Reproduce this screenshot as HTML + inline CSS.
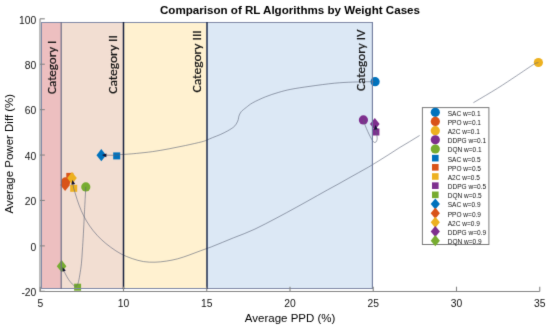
<!DOCTYPE html><html><head><meta charset="utf-8"><title>Comparison of RL Algorithms by Weight Cases</title><style>html,body{margin:0;padding:0;background:#fff;overflow:hidden}svg{display:block}text{font-family:"Liberation Sans",Arial,sans-serif}</style></head><body>
<svg width="550" height="328" viewBox="0 0 550 328">
<defs><filter id="sf" x="0" y="0" width="550" height="328" filterUnits="userSpaceOnUse" color-interpolation-filters="sRGB"><feConvolveMatrix order="3" kernelMatrix="0.0100 0.0800 0.0100 0.0800 0.6400 0.0800 0.0100 0.0800 0.0100" divisor="1" edgeMode="duplicate" preserveAlpha="true"/></filter></defs>
<rect width="550" height="328" fill="#fff"/>
<g filter="url(#sf)">
<rect width="550" height="328" fill="#fff"/>
<g fill-opacity="0.3">
<rect x="41.00" y="22.0" width="20.20" height="267.00" fill="#c32a30"/>
<rect x="61.20" y="22.0" width="62.30" height="267.00" fill="#d39169"/>
<rect x="123.50" y="22.0" width="83.50" height="267.00" fill="#ffd062"/>
<rect x="207.00" y="22.0" width="165.40" height="267.00" fill="#8ab2de"/>
</g>
<g>
<circle cx="375.10" cy="81.70" r="4.6" fill="#0072BD"/>
<circle cx="65.60" cy="181.90" r="4.6" fill="#D95319"/>
<circle cx="538.40" cy="62.50" r="4.6" fill="#EDB120"/>
<circle cx="363.40" cy="119.90" r="4.6" fill="#7E2F8E"/>
<circle cx="85.80" cy="186.90" r="4.6" fill="#77AC30"/>
<rect x="113.20" y="152.40" width="7.0" height="7.0" fill="#0072BD"/>
<rect x="66.30" y="172.90" width="7.0" height="7.0" fill="#D95319"/>
<rect x="70.20" y="184.80" width="7.0" height="7.0" fill="#EDB120"/>
<rect x="372.40" y="128.50" width="7.0" height="7.0" fill="#7E2F8E"/>
<rect x="74.10" y="283.70" width="7.0" height="7.0" fill="#77AC30"/>
<path d="M101.30,149.10 L106.10,155.20 L101.30,161.30 L96.50,155.20Z" fill="#0072BD"/>
<path d="M65.10,178.90 L69.90,185.00 L65.10,191.10 L60.30,185.00Z" fill="#D95319"/>
<path d="M72.00,172.00 L76.80,178.10 L72.00,184.20 L67.20,178.10Z" fill="#EDB120"/>
<path d="M374.80,117.90 L379.60,124.00 L374.80,130.10 L370.00,124.00Z" fill="#7E2F8E"/>
<path d="M61.60,260.10 L66.40,266.20 L61.60,272.30 L56.80,266.20Z" fill="#77AC30"/>
</g>
<g fill="none" stroke="#5c6478" stroke-opacity="0.6" stroke-width="1" stroke-linejoin="round">
<path d="M375.10,81.70 C373.70,81.70 374.63,81.63 370.90,81.70 C367.17,81.77 358.77,81.85 352.70,82.10 C346.63,82.35 341.62,82.50 334.50,83.20 C327.38,83.90 317.27,85.28 310.00,86.30 C302.73,87.32 296.20,88.27 290.90,89.30 C285.60,90.33 282.43,91.25 278.20,92.50 C273.97,93.75 269.75,95.08 265.50,96.80 C261.25,98.52 255.90,101.03 252.70,102.80 C249.50,104.57 248.23,105.90 246.30,107.40 C244.37,108.90 242.33,110.33 241.10,111.80 C239.87,113.27 239.37,114.93 238.90,116.20 C238.43,117.47 238.65,118.27 238.30,119.40 C237.95,120.53 237.53,121.77 236.80,123.00 C236.07,124.23 235.40,125.50 233.90,126.80 C232.40,128.10 230.08,129.50 227.80,130.80 C225.52,132.10 222.73,133.47 220.20,134.60 C217.67,135.73 214.85,136.68 212.60,137.60 C210.35,138.52 208.50,139.40 206.70,140.10 C204.90,140.80 205.33,140.90 201.80,141.80 C198.27,142.70 190.95,144.33 185.50,145.50 C180.05,146.67 174.57,147.78 169.10,148.80 C163.63,149.82 158.15,150.83 152.70,151.60 C147.25,152.37 140.48,152.98 136.40,153.40 C132.32,153.82 130.93,153.90 128.20,154.10 C125.47,154.30 121.92,154.45 120.00,154.60 C118.08,154.75 117.80,154.87 116.70,155.00"/>
<path d="M73.70,188.30 C74.83,192.03 75.85,195.80 77.10,199.50 C78.35,203.20 79.63,206.92 81.20,210.50 C82.77,214.08 84.50,217.63 86.50,221.00 C88.50,224.37 90.72,227.60 93.20,230.70 C95.68,233.80 98.47,236.83 101.40,239.60 C104.33,242.37 107.50,244.90 110.80,247.30 C114.10,249.70 117.63,252.12 121.20,254.00 C124.77,255.88 128.47,257.33 132.20,258.60 C135.93,259.87 139.80,261.00 143.60,261.60 C147.40,262.20 151.22,262.28 155.00,262.20 C158.78,262.12 162.52,261.67 166.30,261.10 C170.08,260.53 173.92,259.80 177.70,258.80 C181.48,257.80 185.25,256.42 189.00,255.10 C192.75,253.78 196.48,252.27 200.20,250.90 C203.92,249.53 207.60,248.32 211.30,246.90 C215.00,245.48 218.73,243.90 222.40,242.40 C226.07,240.90 229.67,239.35 233.30,237.90 C236.93,236.45 240.60,235.17 244.20,233.70 C247.80,232.23 251.35,230.75 254.90,229.10 C258.45,227.45 261.98,225.60 265.50,223.80 C269.02,222.00 272.50,220.15 276.00,218.30 C279.50,216.45 283.02,214.58 286.50,212.70 C289.98,210.82 293.45,208.90 296.90,207.00 C300.35,205.10 303.77,203.22 307.20,201.30 C310.63,199.38 314.08,197.42 317.50,195.50 C320.92,193.58 324.28,191.68 327.70,189.80 C331.12,187.92 334.60,186.08 338.00,184.20 C341.40,182.32 344.72,180.40 348.10,178.50 C351.48,176.60 354.90,174.70 358.30,172.80 C361.70,170.90 365.10,169.08 368.50,167.10 C371.90,165.12 375.30,163.00 378.70,160.90 C382.10,158.80 385.50,156.67 388.90,154.50 C392.30,152.33 395.70,150.02 399.10,147.90 C402.50,145.78 405.88,143.87 409.30,141.80 C412.72,139.73 416.17,137.60 419.60,135.50"/>
<path d="M473.40,102.70 C481.37,97.93 490.13,92.87 497.30,88.40 C504.47,83.93 510.37,79.88 516.40,75.90 C522.43,71.92 529.83,66.73 533.50,64.50 C537.17,62.27 536.77,63.17 538.40,62.50"/>
<path d="M85.80,186.90 C85.60,190.70 85.40,194.55 85.20,198.30 C85.00,202.05 84.90,203.48 84.60,209.40 C84.30,215.32 83.77,227.03 83.40,233.80 C83.03,240.57 82.73,245.00 82.40,250.00 C82.07,255.00 81.83,259.65 81.40,263.80 C80.97,267.95 80.33,271.72 79.80,274.90 C79.27,278.08 78.73,281.05 78.20,282.90 C77.67,284.75 77.38,285.62 76.60,286.00 C75.82,286.38 74.82,286.25 73.50,285.20 C72.18,284.15 70.03,281.55 68.70,279.70 C67.37,277.85 66.35,275.68 65.50,274.10 C64.65,272.52 64.23,271.50 63.60,270.20"/>
<path d="M363.40,119.90 C364.03,121.83 364.57,123.75 365.30,125.70 C366.03,127.65 366.98,129.80 367.80,131.60 C368.62,133.40 369.38,134.95 370.20,136.50 C371.02,138.05 372.02,139.92 372.70,140.90 C373.38,141.88 373.73,142.23 374.30,142.40 C374.87,142.57 375.63,142.40 376.10,141.90 C376.57,141.40 376.93,140.22 377.10,139.40 C377.27,138.58 377.20,138.23 377.10,137.00 C377.00,135.77 376.70,133.67 376.50,132.00"/>
<path d="M116.7,155.3 L105.5,155.2"/>
<path d="M73.7,188.3 L72.8,183.5"/>
<path d="M375.9,132.0 L375.4,128.5"/>
</g>
<g stroke="#8089a6" stroke-width="1" fill="none"><path d="M41.0,22.5 H372.4 M41.0,288.5 H372.4 M41.5,22.0 V289.0"/></g>
<line x1="61.2" y1="22.0" x2="61.2" y2="289.0" stroke="#6c6d86" stroke-width="1.2"/>
<line x1="372.4" y1="22.0" x2="372.4" y2="289.0" stroke="#6d7a9c" stroke-width="1.1"/>
<line x1="123.5" y1="22.0" x2="123.5" y2="289.0" stroke="#17223f" stroke-width="1.5"/>
<line x1="207.0" y1="22.0" x2="207.0" y2="289.0" stroke="#1d2a4c" stroke-width="1.5"/>
<path d="M101.90,155.10 L106.30,157.22 L106.49,153.43Z" fill="#101030"/>
<path d="M72.40,180.00 L71.42,184.79 L75.15,184.04Z" fill="#101030"/>
<path d="M62.60,267.30 L62.66,271.83 L65.79,270.51Z" fill="#101030"/>
<path d="M375.40,125.00 L373.96,129.67 L377.74,129.29Z" fill="#101030"/>
<g stroke="#858585" stroke-width="1.1" fill="none"><path d="M40,18.8 V291.5 H539.75"/>
<path d="M40,291.30 h4.8"/>
<path d="M40,245.88 h4.8"/>
<path d="M40,200.46 h4.8"/>
<path d="M40,155.05 h4.8"/>
<path d="M40,109.63 h4.8"/>
<path d="M40,64.22 h4.8"/>
<path d="M40,18.80 h4.8"/>
<path d="M40.25,291.5 v-4.8"/>
<path d="M123.50,291.5 v-4.8"/>
<path d="M206.75,291.5 v-4.8"/>
<path d="M290.00,291.5 v-4.8"/>
<path d="M373.25,291.5 v-4.8"/>
<path d="M456.50,291.5 v-4.8"/>
<path d="M539.75,291.5 v-4.8"/>
</g>
<g fill="#111" font-size="10.3">
<text x="36.3" y="296.10" text-anchor="end">-20</text>
<text x="36.3" y="250.68" text-anchor="end">0</text>
<text x="36.3" y="205.26" text-anchor="end">20</text>
<text x="36.3" y="159.85" text-anchor="end">40</text>
<text x="36.3" y="114.43" text-anchor="end">60</text>
<text x="36.3" y="69.02" text-anchor="end">80</text>
<text x="36.3" y="23.60" text-anchor="end">100</text>
<text x="40.25" y="306.9" text-anchor="middle">5</text>
<text x="123.50" y="306.9" text-anchor="middle">10</text>
<text x="206.75" y="306.9" text-anchor="middle">15</text>
<text x="290.00" y="306.9" text-anchor="middle">20</text>
<text x="373.25" y="306.9" text-anchor="middle">25</text>
<text x="456.50" y="306.9" text-anchor="middle">30</text>
<text x="539.75" y="306.9" text-anchor="middle">35</text>
</g>
<text x="290.1" y="321.8" font-size="11.5" fill="#000" text-anchor="middle">Average PPD (%)</text>
<text transform="translate(13.4,153.7) rotate(-90)" font-size="11.5" fill="#000" text-anchor="middle">Average Power Diff (%)</text>
<text x="290.0" y="13.6" font-size="11.6" font-weight="bold" fill="#000" text-anchor="middle">Comparison of RL Algorithms by Weight Cases</text>
<text transform="translate(56,93.9) rotate(-90)" font-size="13" fill="#111" stroke="#111" stroke-width="0.2" style="font-family:Carlito,'Liberation Sans',sans-serif" textLength="53.3" lengthAdjust="spacingAndGlyphs">Category I</text>
<text transform="translate(117.1,93.8) rotate(-90)" font-size="13" fill="#111" stroke="#111" stroke-width="0.2" style="font-family:Carlito,'Liberation Sans',sans-serif" textLength="58.6" lengthAdjust="spacingAndGlyphs">Category II</text>
<text transform="translate(201,92.5) rotate(-90)" font-size="13" fill="#111" stroke="#111" stroke-width="0.2" style="font-family:Carlito,'Liberation Sans',sans-serif" textLength="62.2" lengthAdjust="spacingAndGlyphs">Category III</text>
<text transform="translate(364.6,90.9) rotate(-90)" font-size="13" fill="#111" stroke="#111" stroke-width="0.2" style="font-family:Carlito,'Liberation Sans',sans-serif" textLength="61.4" lengthAdjust="spacingAndGlyphs">Category IV</text>
<rect x="422.4" y="107.6" width="66.50" height="136.90" fill="#fff" stroke="#7a7a7a" stroke-width="1"/>
<circle cx="435.30" cy="112.30" r="4.6" fill="#0072BD"/>
<text x="447.7" y="115.70" font-size="7.3" fill="#111" textLength="32.90" lengthAdjust="spacingAndGlyphs">SAC w=0.1</text>
<circle cx="435.30" cy="121.47" r="4.6" fill="#D95319"/>
<text x="447.7" y="124.87" font-size="7.3" fill="#111" textLength="33.30" lengthAdjust="spacingAndGlyphs">PPO w=0.1</text>
<circle cx="435.30" cy="130.64" r="4.6" fill="#EDB120"/>
<text x="447.7" y="134.04" font-size="7.3" fill="#111" textLength="32.20" lengthAdjust="spacingAndGlyphs">A2C w=0.1</text>
<circle cx="435.30" cy="139.81" r="4.6" fill="#7E2F8E"/>
<text x="447.7" y="143.21" font-size="7.3" fill="#111" textLength="38.40" lengthAdjust="spacingAndGlyphs">DDPG w=0.1</text>
<circle cx="435.30" cy="148.98" r="4.6" fill="#77AC30"/>
<text x="447.7" y="152.38" font-size="7.3" fill="#111" textLength="34.00" lengthAdjust="spacingAndGlyphs">DQN w=0.1</text>
<rect x="432.00" y="154.85" width="6.6" height="6.6" fill="#0072BD"/>
<text x="447.7" y="161.55" font-size="7.3" fill="#111" textLength="32.90" lengthAdjust="spacingAndGlyphs">SAC w=0.5</text>
<rect x="432.00" y="164.02" width="6.6" height="6.6" fill="#D95319"/>
<text x="447.7" y="170.72" font-size="7.3" fill="#111" textLength="33.30" lengthAdjust="spacingAndGlyphs">PPO w=0.5</text>
<rect x="432.00" y="173.19" width="6.6" height="6.6" fill="#EDB120"/>
<text x="447.7" y="179.89" font-size="7.3" fill="#111" textLength="32.20" lengthAdjust="spacingAndGlyphs">A2C w=0.5</text>
<rect x="432.00" y="182.36" width="6.6" height="6.6" fill="#7E2F8E"/>
<text x="447.7" y="189.06" font-size="7.3" fill="#111" textLength="38.40" lengthAdjust="spacingAndGlyphs">DDPG w=0.5</text>
<rect x="432.00" y="191.53" width="6.6" height="6.6" fill="#77AC30"/>
<text x="447.7" y="198.23" font-size="7.3" fill="#111" textLength="34.00" lengthAdjust="spacingAndGlyphs">DQN w=0.5</text>
<path d="M435.30,198.40 L439.90,204.00 L435.30,209.60 L430.70,204.00Z" fill="#0072BD"/>
<text x="447.7" y="207.40" font-size="7.3" fill="#111" textLength="32.90" lengthAdjust="spacingAndGlyphs">SAC w=0.9</text>
<path d="M435.30,207.57 L439.90,213.17 L435.30,218.77 L430.70,213.17Z" fill="#D95319"/>
<text x="447.7" y="216.57" font-size="7.3" fill="#111" textLength="33.30" lengthAdjust="spacingAndGlyphs">PPO w=0.9</text>
<path d="M435.30,216.74 L439.90,222.34 L435.30,227.94 L430.70,222.34Z" fill="#EDB120"/>
<text x="447.7" y="225.74" font-size="7.3" fill="#111" textLength="32.20" lengthAdjust="spacingAndGlyphs">A2C w=0.9</text>
<path d="M435.30,225.91 L439.90,231.51 L435.30,237.11 L430.70,231.51Z" fill="#7E2F8E"/>
<text x="447.7" y="234.91" font-size="7.3" fill="#111" textLength="38.40" lengthAdjust="spacingAndGlyphs">DDPG w=0.9</text>
<path d="M435.30,235.08 L439.90,240.68 L435.30,246.28 L430.70,240.68Z" fill="#77AC30"/>
<text x="447.7" y="244.08" font-size="7.3" fill="#111" textLength="34.00" lengthAdjust="spacingAndGlyphs">DQN w=0.9</text>
</g>
</svg></body></html>
